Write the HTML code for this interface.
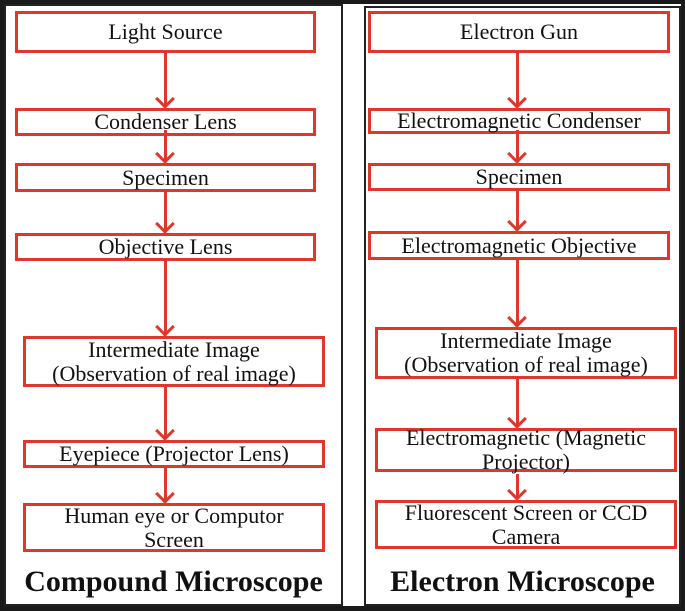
<!DOCTYPE html>
<html><head><style>
body{margin:0;width:685px;height:611px;position:relative;background:#fff;overflow:hidden;font-family:"Liberation Serif",serif;}
.frame{position:absolute;left:0;top:0;width:685px;height:611px;box-sizing:border-box;border:4px solid #1a1a1a;border-bottom-width:5px;}
.panel{position:absolute;border:2px solid #222;box-sizing:border-box;}
.b{position:absolute;border:3px solid #e0372b;box-sizing:border-box;display:flex;align-items:center;justify-content:center;text-align:center;font-size:22px;line-height:24px;color:#111;background:transparent;white-space:nowrap}
.l{position:absolute;width:3px;background:#e0372b}
.a{position:absolute;width:14px;height:14px;border-right:3px solid #e0372b;border-bottom:3px solid #e0372b;transform:rotate(45deg);box-sizing:border-box}
.t{position:absolute;font-weight:bold;font-size:30px;text-align:center;color:#111;white-space:nowrap}
</style></head><body>
<div class="frame"></div>
<div class="panel" style="left:4px;top:4px;width:339px;height:602px"></div>
<div class="panel" style="left:364px;top:6px;width:317px;height:600px"></div>

<div class="l" style="left:164px;top:52px;height:54px"></div><div class="a" style="left:158px;top:92px"></div>
<div class="l" style="left:164px;top:130px;height:31px"></div><div class="a" style="left:158px;top:147px"></div>
<div class="l" style="left:164px;top:190px;height:41px"></div><div class="a" style="left:158px;top:217px"></div>
<div class="l" style="left:164px;top:260px;height:74px"></div><div class="a" style="left:158px;top:320px"></div>
<div class="l" style="left:164px;top:386px;height:52px"></div><div class="a" style="left:158px;top:424px"></div>
<div class="l" style="left:164px;top:467px;height:34px"></div><div class="a" style="left:158px;top:487px"></div>

<div class="b" style="left:15px;top:11px;width:301px;height:42px">Light Source</div>
<div class="b" style="left:15px;top:108px;width:301px;height:28px">Condenser Lens</div>
<div class="b" style="left:15px;top:163px;width:301px;height:29px">Specimen</div>
<div class="b" style="left:15px;top:233px;width:301px;height:28px">Objective Lens</div>
<div class="b" style="left:23px;top:336px;width:302px;height:51px">Intermediate Image<br>(Observation of real image)</div>
<div class="b" style="left:23px;top:440px;width:302px;height:28px">Eyepiece (Projector Lens)</div>
<div class="b" style="left:23px;top:503px;width:302px;height:49px">Human eye or Computor<br>Screen</div>
<div class="t" style="left:4px;top:565px;width:339px">Compound Microscope</div>

<div class="l" style="left:516px;top:52px;height:54px"></div><div class="a" style="left:510px;top:92px"></div>
<div class="l" style="left:516px;top:130px;height:31px"></div><div class="a" style="left:510px;top:147px"></div>
<div class="l" style="left:516px;top:190px;height:39px"></div><div class="a" style="left:510px;top:215px"></div>
<div class="l" style="left:516px;top:259px;height:66px"></div><div class="a" style="left:510px;top:311px"></div>
<div class="l" style="left:516px;top:378px;height:48px"></div><div class="a" style="left:510px;top:412px"></div>
<div class="l" style="left:516px;top:474px;height:24px"></div><div class="a" style="left:510px;top:484px"></div>

<div class="b" style="left:368px;top:11px;width:302px;height:42px">Electron Gun</div>
<div class="b" style="left:368px;top:108px;width:302px;height:26px">Electromagnetic Condenser</div>
<div class="b" style="left:368px;top:163px;width:302px;height:28px">Specimen</div>
<div class="b" style="left:368px;top:231px;width:302px;height:29px">Electromagnetic Objective</div>
<div class="b" style="left:375px;top:327px;width:302px;height:52px">Intermediate Image<br>(Observation of real image)</div>
<div class="b" style="left:375px;top:428px;width:302px;height:44px;line-height:24px">Electromagnetic (Magnetic<br>Projector)</div>
<div class="b" style="left:375px;top:500px;width:302px;height:49px">Fluorescent Screen or CCD<br>Camera</div>
<div class="t" style="left:364px;top:565px;width:317px">Electron Microscope</div>
</body></html>
